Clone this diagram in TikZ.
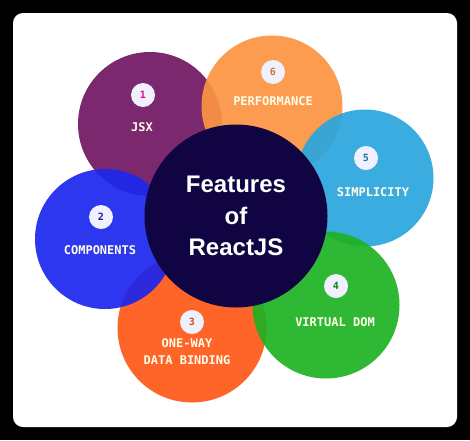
\documentclass[tikz,border=0pt]{standalone}
\usepackage{fontspec}
\setmainfont{Liberation Sans}
\setmonofont{DejaVu Sans Mono}
\usetikzlibrary{positioning}

\definecolor{jsxC}{RGB}{112,22,98}
\definecolor{compC}{RGB}{28,38,238}
\definecolor{bindC}{RGB}{255,88,22}
\definecolor{vdomC}{RGB}{30,178,34}
\definecolor{simpC}{RGB}{42,166,222}
\definecolor{perfC}{RGB}{252,148,66}
\definecolor{hubC}{RGB}{16,4,66}

\tikzset{
    feature/.style={circle, inner sep=0pt, minimum size=#1, fill opacity=0.92},
    badge/.style={circle, fill=white!94!blue, inner sep=0pt, minimum size=24pt,
        font=\ttfamily\bfseries\fontsize{10}{10}\selectfont},
    tag/.style={text=white!92!yellow, align=center,
        font=\ttfamily\bfseries\fontsize{12}{17}\selectfont},
}

\begin{document}
\begin{tikzpicture}[x=1pt,y=-1pt]
                \fill[black] (0,0) rectangle (470,440);
                \fill[white, rounded corners=10pt] (13,13) rectangle (457,427);

                \node[feature=144pt, fill=jsxC] (jsx) at (150,124) {};
                \node[feature=149pt, fill=bindC] (binding) at (192,328) {};
                \node[feature=140pt, fill=compC] (components) at (105,239) {};
                \node[feature=141pt, fill=perfC] (performance) at (272,106) {};
                \node[feature=137pt, fill=simpC] (simplicity) at (365,178) {};
                \node[feature=147pt, fill=vdomC] (vdom) at (326,305) {};
                \node[circle, inner sep=0pt, minimum size=183pt, fill=hubC] (hub) at (236,216) {};

                \node[badge, text=magenta!80!purple] (b1) at (143,95) {1};
                \node[tag] (t1) at (142,127) {JSX};
                \node[badge, text=compC!70!black] (b2) at (101,217) {2};
                \node[tag] (t2) at (100,250) {COMPONENTS};
                \node[badge, text=bindC!85!black] (b3) at (192,322) {3};
                \node[tag] (t3) at (187,352) {ONE-WAY\\DATA BINDING};
                \node[badge, text=vdomC!70!black] (b4) at (336,286) {4};
                \node[tag] (t4) at (335,322) {VIRTUAL DOM};
                \node[badge, text=simpC!70!black] (b5) at (366,158) {5};
                \node[tag] (t5) at (373,192) {SIMPLICITY};
                \node[badge, text=perfC!80!black] (b6) at (273,72) {6};
                \node[tag] (t6) at (273,101) {PERFORMANCE};

                \node[text=white, align=center, font=\bfseries\fontsize{24}{31.5}\selectfont]
                    (title) at (hub) {Features\\of\\ReactJS};
\end{tikzpicture}
\end{document}
